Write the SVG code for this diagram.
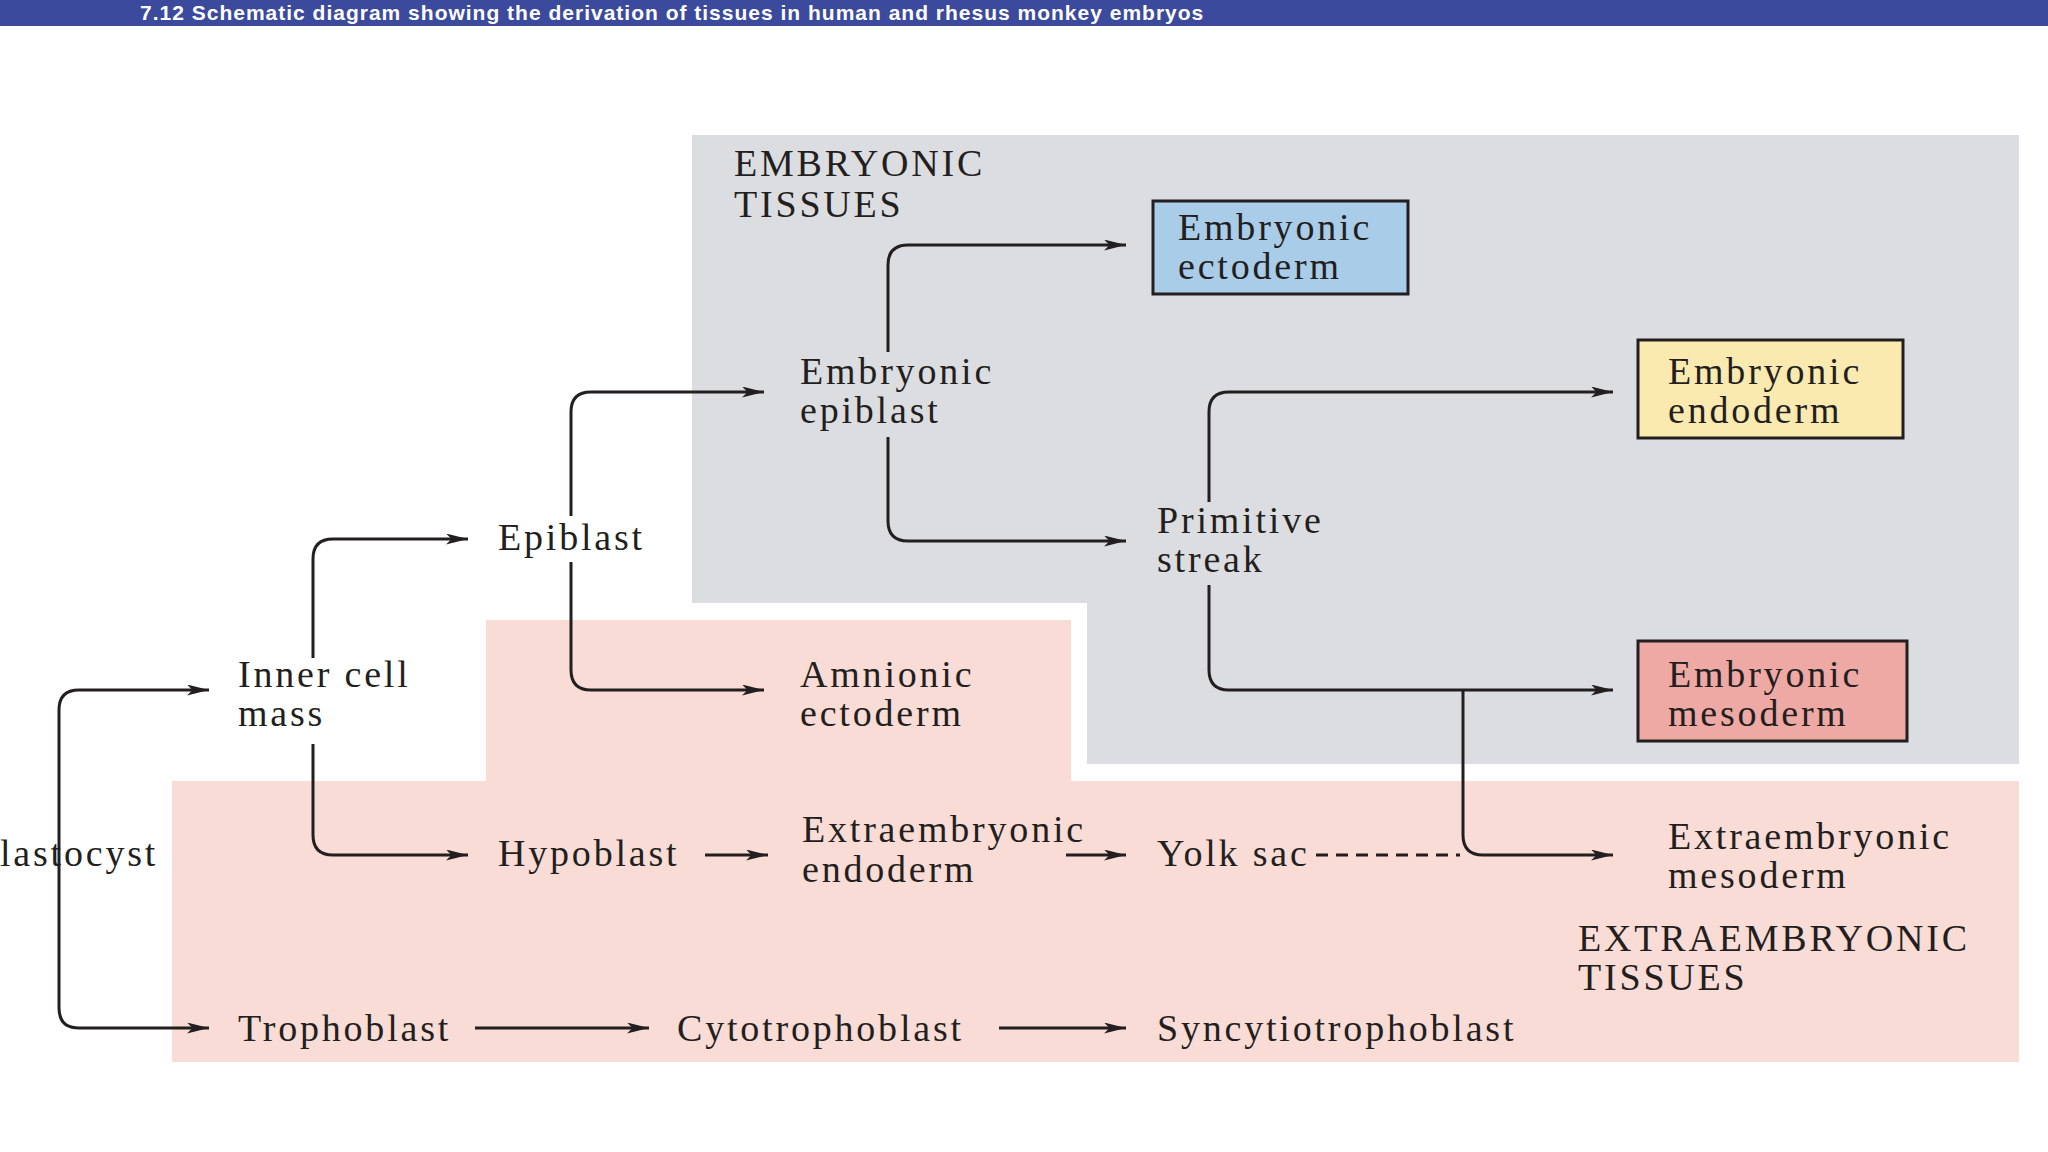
<svg xmlns="http://www.w3.org/2000/svg" width="2048" height="1152" viewBox="0 0 2048 1152">
<style>
text{font-family:"Liberation Serif",serif;font-size:38px;letter-spacing:2.8px;fill:#231f20}
.c{fill:none;stroke:#231f20;stroke-width:3}
.box{stroke:#231f20;stroke-width:3}
</style>
<defs>
<marker id="a" viewBox="0 0 20 10" refX="20" refY="5" markerWidth="22" markerHeight="11" markerUnits="userSpaceOnUse" orient="auto">
<path d="M0,0 L20,5 L0,10 L5,5 Z" fill="#231f20"/>
</marker>
</defs>
<rect width="2048" height="1152" fill="#fff"/>
<rect x="0" y="0" width="2048" height="26" fill="#3b4a9c"/>
<text x="140" y="20" style="fill:#fff;font-family:'Liberation Sans',sans-serif;font-weight:bold;font-size:21px;letter-spacing:1px">7.12 Schematic diagram showing the derivation of tissues in human and rhesus monkey embryos</text>
<g id="regions">
<polygon points="692,135 2019,135 2019,764 1087,764 1087,603 692,603" fill="#dcdde1"/>
<polygon points="486,620 1071,620 1071,781 2019,781 2019,1062 172,1062 172,781 486,781" fill="#f9dcd5"/>
</g>
<g id="connectors">
<path class="c" d="M59,859 V710 Q59,690 79,690 H209" marker-end="url(#a)"/>
<path class="c" d="M59,859 V1008 Q59,1028 79,1028 H209" marker-end="url(#a)"/>
<path class="c" d="M313,658 V559 Q313,539 333,539 H468" marker-end="url(#a)"/>
<path class="c" d="M313,744 V835 Q313,855 333,855 H468" marker-end="url(#a)"/>
<path class="c" d="M571,516 V412 Q571,392 591,392 H764" marker-end="url(#a)"/>
<path class="c" d="M571,562 V670 Q571,690 591,690 H764" marker-end="url(#a)"/>
<path class="c" d="M888,352 V265 Q888,245 908,245 H1126" marker-end="url(#a)"/>
<path class="c" d="M888,437 V521 Q888,541 908,541 H1126" marker-end="url(#a)"/>
<path class="c" d="M1209,502 V412 Q1209,392 1229,392 H1613" marker-end="url(#a)"/>
<path class="c" d="M1209,585 V670 Q1209,690 1229,690 H1613" marker-end="url(#a)"/>
<path class="c" d="M1463,690 V835 Q1463,855 1483,855 H1613" marker-end="url(#a)"/>
<path class="c" d="M1316,855 H1460" stroke-dasharray="12,8"/>
<path class="c" d="M705,855 H768" marker-end="url(#a)"/>
<path class="c" d="M1066,855 H1126" marker-end="url(#a)"/>
<path class="c" d="M475,1028 H649" marker-end="url(#a)"/>
<path class="c" d="M999,1028 H1126" marker-end="url(#a)"/>
</g>
<g id="label-embryonic"><text x="734" y="176">EMBRYONIC</text><text x="734" y="217">TISSUES</text></g>
<g id="label-extra"><text x="1578" y="951">EXTRAEMBRYONIC</text><text x="1578" y="990">TISSUES</text></g>
<g id="ectoderm"><rect class="box" x="1153" y="201" width="255" height="93" fill="#a9cce8"/><text x="1178" y="240">Embryonic</text><text x="1178" y="279">ectoderm</text></g>
<g id="endoderm"><rect class="box" x="1638" y="340" width="265" height="98" fill="#fbeab0"/><text x="1668" y="384">Embryonic</text><text x="1668" y="423">endoderm</text></g>
<g id="mesoderm"><rect class="box" x="1638" y="641" width="269" height="100" fill="#efa9a5"/><text x="1668" y="687">Embryonic</text><text x="1668" y="726">mesoderm</text></g>
<g id="emb-epiblast"><text x="800" y="384">Embryonic</text><text x="800" y="423">epiblast</text></g>
<g id="epiblast"><text x="498" y="550">Epiblast</text></g>
<g id="primitive"><text x="1157" y="533">Primitive</text><text x="1157" y="572">streak</text></g>
<g id="icm"><text x="238" y="687">Inner cell</text><text x="238" y="726">mass</text></g>
<g id="amnionic"><text x="800" y="687">Amnionic</text><text x="800" y="726">ectoderm</text></g>
<g id="blastocyst"><text x="0" y="866">lastocyst</text></g>
<g id="hypoblast"><text x="498" y="866">Hypoblast</text></g>
<g id="ex-endoderm"><text x="802" y="842">Extraembryonic</text><text x="802" y="882">endoderm</text></g>
<g id="yolk"><text x="1157" y="866">Yolk sac</text></g>
<g id="ex-mesoderm"><text x="1668" y="849">Extraembryonic</text><text x="1668" y="888">mesoderm</text></g>
<g id="trophoblast"><text x="238" y="1041">Trophoblast</text></g>
<g id="cyto"><text x="677" y="1041">Cytotrophoblast</text></g>
<g id="syncytio"><text x="1157" y="1041">Syncytiotrophoblast</text></g>
</svg>
